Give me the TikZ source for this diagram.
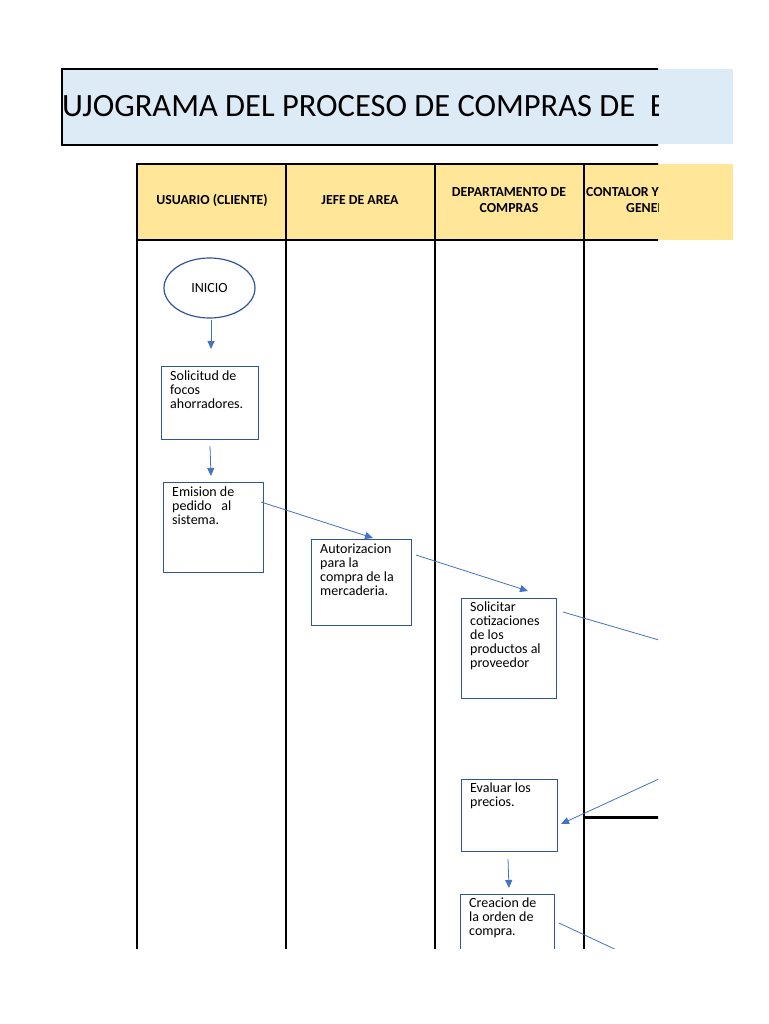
\documentclass[tikz,border=0pt]{standalone}
\usepackage{fontspec}
\setmainfont{Carlito}
\usetikzlibrary{arrows.meta,shapes.geometric,calc}
\definecolor{titlefill}{HTML}{DDEBF7}
\definecolor{headfill}{HTML}{FFE699}
\definecolor{boxblue}{HTML}{2F5597}
\definecolor{arrblue}{HTML}{4472C4}
\tikzset{
  grid/.style={line width=2.4pt,black},
  procbox/.style={draw=boxblue,line width=1.2pt,rectangle,inner sep=0pt,anchor=north west},
  boxtext/.style={anchor=north west,align=left,inner sep=0pt,font=\fontsize{14}{14}\selectfont},
  headtext/.style={align=center,inner sep=0pt,font=\fontsize{13.8}{16}\selectfont\bfseries},
  conn/.style={draw=arrblue,line width=0.8pt,-{Triangle[length=8pt,width=7pt]}},
  connplain/.style={draw=arrblue,line width=0.8pt}
}
\begin{document}
\begin{tikzpicture}[x=1pt,y=-1pt]
\useasboundingbox (0,0) rectangle (768,1024);
\fill[white] (0,0) rectangle (768,1024);
% fills
\fill[titlefill] (62,69) rectangle (733,144);
\fill[headfill] (137,164) rectangle (733,240);
\fill[white] (658,145) rectangle (768,164);
\begin{scope}
\clip (0,0) rectangle (658,948);
% title
\begin{scope}
\clip (63,69) rectangle (658,145);
\node[anchor=base west,inner sep=0pt,font=\fontsize{32.5}{40}\selectfont] (title) at (62,117) {UJOGRAMA DEL PROCESO DE COMPRAS DE\ \ EMPRESA};
\end{scope}
\draw[grid] (62,69) -- (670,69);
\draw[grid] (62,145) -- (670,145);
\draw[grid] (62,68) -- (62,146);
% header lines
\draw[grid] (137,164) -- (670,164);
\draw[grid] (137,240) -- (670,240);
\foreach \x in {137,286,435,584} {\draw[grid] (\x,163) -- (\x,960);}
\draw[line width=3pt] (584,817) -- (670,817);
% headers
\node[headtext] (h1) at (212,200) {USUARIO (CLIENTE)};
\node[headtext] (h2) at (360,200) {JEFE DE AREA};
\node[headtext] (h3) at (509,200) {DEPARTAMENTO DE\\COMPRAS};
\node[headtext,anchor=west] (h4a) at (586,192) {CONTALOR Y GERENTE};
\node[headtext,anchor=west] (h4b) at (626,208) {GENERAL};
% start
\node[draw=boxblue,line width=1.2pt,ellipse,minimum width=91pt,minimum height=60pt,inner sep=0pt,font=\fontsize{14}{14}\selectfont] (inicio) at (209.5,288) {INICIO};
% boxes
\node[procbox,minimum width=97pt,minimum height=73pt] (solic) at (161,366) {};
\node[boxtext] (solict) at (170,371) {Solicitud de\\focos\\ahorradores.};
\node[procbox,minimum width=100pt,minimum height=90pt] (emis) at (163,482) {};
\node[boxtext] (emist) at (172,487) {Emision de\\pedido\ \ \ al\\sistema.};
\node[procbox,minimum width=100pt,minimum height=86pt] (autor) at (311,539) {};
\node[boxtext] (autort) at (320,544) {Autorizacion\\para la\\compra de la\\mercaderia.};
\node[procbox,minimum width=95pt,minimum height=100pt] (cotiz) at (461,598) {};
\node[boxtext] (cotizt) at (470,602) {Solicitar\\cotizaciones\\de los\\productos al\\proveedor};
\node[procbox,minimum width=96pt,minimum height=72pt] (evalu) at (461,779) {};
\node[boxtext] (evalut) at (470,783) {Evaluar los\\precios.};
\node[procbox,minimum width=94pt,minimum height=70pt] (orden) at (460,894) {};
\node[boxtext] (ordent) at (469,898) {Creacion de\\la orden de\\compra.};
% connector end points
\coordinate (c1) at (211,320);
\coordinate (c1e) at (211,349);
\coordinate (c2) at (210,446);
\coordinate (c2e) at (211,476);
\coordinate (c3) at (261,502);
\coordinate (c3e) at (373,538);
\coordinate (c4) at (416,555);
\coordinate (c4e) at (528,591);
\coordinate (c5) at (563,612);
\coordinate (c5e) at (700,652);
\coordinate (c6) at (700,760);
\coordinate (c6e) at (561,824);
\coordinate (c7) at (508,859);
\coordinate (c7e) at (509,888);
\coordinate (c8) at (559,923);
\coordinate (c8e) at (640,961);
\draw[conn] (c1) -- (c1e);
\draw[conn] (c2) -- (c2e);
\draw[conn] (c3) -- (c3e);
\draw[conn] (c4) -- (c4e);
\draw[connplain] (c5) -- (c5e);
\draw[conn] (c6) -- (c6e);
\draw[conn] (c7) -- (c7e);
\draw[connplain] (c8) -- (c8e);
\end{scope}
\end{tikzpicture}
\end{document}
